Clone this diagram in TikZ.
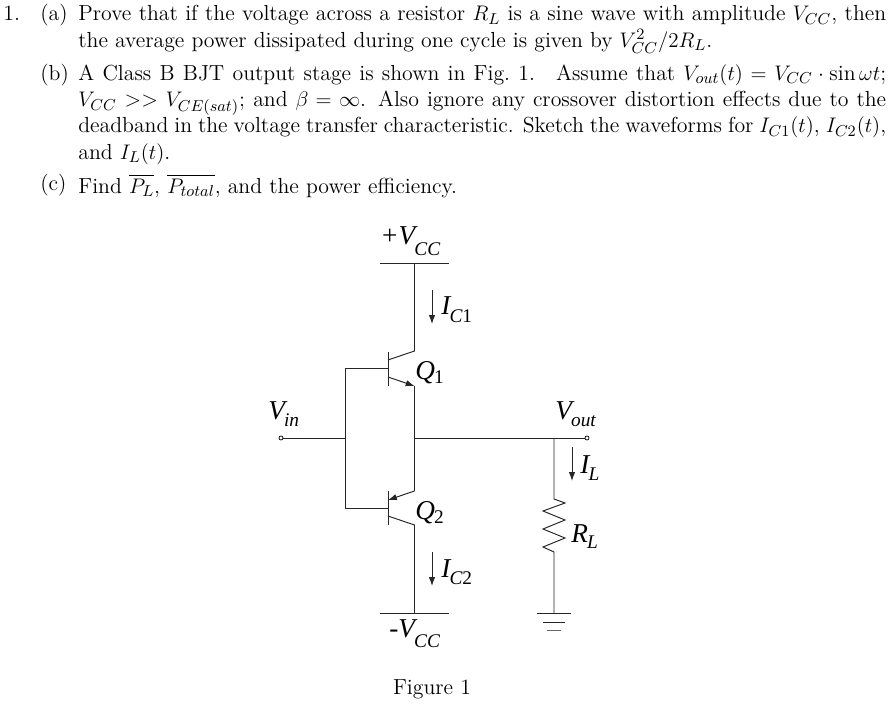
\documentclass[tikz,border=0pt]{standalone}
\usepackage{amsfonts, amssymb, amsmath}
\usepackage{fontspec}
\usepackage{tikz}
\usetikzlibrary{arrows.meta}
\newfontfamily\circfont{Liberation Serif}
\newcommand{\sublabel}[3][4pt]{{\fontsize{15.5}{16}\circfont\itshape #2\kern-0.5pt\raisebox{-#1}{\fontsize{11}{12}\selectfont #3}}}
\tikzset{
	para/.style={anchor=north west,inner sep=0pt,text width=16.16cm,align=justify,font=\fontsize{12.4}{15}\selectfont},
	item/.style={anchor=base west,inner sep=0pt,font=\fontsize{12.4}{15}\selectfont},
	wire/.style={line width=0.55pt,black!85},
	terminal/.style={draw,circle,inner sep=0pt,minimum size=0.08cm,line width=0.4pt,fill=white},
	climb/.style={inner sep=0pt,anchor=base west}
}
\begin{document}
\begin{tikzpicture}[x=0.02cm,y=-0.02cm,>={Latex[length=5pt,width=3.6pt]}]
		\useasboundingbox (0,0) rectangle (890,706);
		%
		\node[item] (num) at (3,21) {1.};
		\node[item] (itema) at (40,21) {(a)};
		\node[item] (itemb) at (40,81) {(b)};
		\node[item] (itemc) at (40,191) {(c)};
		\node[para] (para a) at (78,5) {Prove that if the voltage across a resistor $R_L$ is a sine wave with amplitude $V_{CC}$, then\linebreak the average power dissipated during one cycle is given by $V_{CC}^2/2R_L$.};
		\node[para] (para b) at (78,64) {A Class B BJT output stage is shown in Fig.~1. \ Assume that $V_{out}(t) = V_{CC} \cdot \sin\omega t$;\linebreak $V_{CC}$ >{>} $V_{CE(sat)}$; and $\beta = \infty$. Also ignore any crossover distortion effects due to the\linebreak deadband in the voltage transfer characteristic. Sketch the waveforms for $I_{C1}(t)$, $I_{C2}(t)$,\linebreak and $I_L(t)$.};
		\node[para] (para c) at (78,174) {Find $\overline{P_L}$, $\overline{P_{total}}$, and the power efficiency.};
		%
		\coordinate (vcc1) at (380,263);
		\coordinate (vcc2) at (449,263);
		\coordinate (vcc) at (414.5,263);
		\coordinate (c1) at (414.5,351);
		\coordinate (e1) at (414.5,386);
		\coordinate (bar1a) at (388,352);
		\coordinate (bar1b) at (388,386);
		\coordinate (c1in) at (388,360);
		\coordinate (e1in) at (388,377);
		\coordinate (b1) at (388,368);
		\coordinate (b1l) at (345,368);
		\coordinate (mid) at (345,438);
		\coordinate (e2) at (414.5,491);
		\coordinate (c2) at (414.5,525);
		\coordinate (bar2a) at (388,491);
		\coordinate (bar2b) at (388,525);
		\coordinate (e2in) at (388,500);
		\coordinate (c2in) at (388,516);
		\coordinate (b2) at (388,508);
		\coordinate (b2l) at (345,508);
		\coordinate (vee) at (414.5,613);
		\coordinate (vee1) at (380,613);
		\coordinate (vee2) at (449,613);
		\coordinate (out) at (414.5,438);
		\coordinate (rtop) at (554,438);
		\coordinate (r1) at (554,499);
		\coordinate (r2) at (554,552);
		\coordinate (gnd) at (554,613);
		\node[terminal] (vin) at (281,438) {};
		\node[terminal] (vout) at (587,438) {};
		%
		\draw[wire] (vcc1) -- (vcc2);
		\draw[wire] (vcc) -- (c1) -- (c1in);
		\draw[wire] (bar1a) -- (bar1b);
		\draw[wire] (b1) -- (b1l) -- (b2l) -- (b2);
		\draw[wire] (bar2a) -- (bar2b);
		\draw[wire,->] (e1in) -- (e1);
		\draw[wire] (e1) -- (e2);
		\draw[wire,->] (e2) -- (e2in);
		\draw[wire] (c2in) -- (c2) -- (vee);
		\draw[wire] (vee1) -- (vee2);
		\draw[wire] (vin) -- (mid);
		\draw[wire] (out) -- (vout);
		\draw[wire] (rtop) -- (r1) -- ++(11,4) -- ++(-22,8) -- ++(22,9) -- ++(-22,9) -- ++(22,9) -- ++(-22,9) -- (r2) -- (gnd);
		%
		\coordinate (g1a) at (537,613);
		\coordinate (g1b) at (571,613);
		\coordinate (g2a) at (543,622);
		\coordinate (g2b) at (565,622);
		\coordinate (g3a) at (547,630);
		\coordinate (g3b) at (561,630);
		\draw[wire] (g1a) -- (g1b);
		\draw[wire] (g2a) -- (g2b);
		\draw[wire,black!60] (g3a) -- (g3b);
		%
		\coordinate (ic1a) at (432,290);
		\coordinate (ic1b) at (432,324);
		\coordinate (ic2a) at (432,552);
		\coordinate (ic2b) at (432,586);
		\coordinate (ila) at (572,447);
		\coordinate (ilb) at (572,481);
		\draw[wire,->] (ic1a) -- (ic1b);
		\draw[wire,->] (ic2a) -- (ic2b);
		\draw[wire,->] (ila) -- (ilb);
		%
		\node[climb] (lvcc) at (380,245) {\sublabel[6.2pt]{+V}{CC}};
		\node[climb] (lic1) at (441,315) {\sublabel{I}{C{\upshape 1}}};
		\node[climb] (lq1) at (415,379) {\sublabel[2.5pt]{Q}{\upshape 1}};
		\node[climb] (lvin) at (268,419) {\sublabel{V}{in}};
		\node[climb] (lvout) at (555,419) {\sublabel{V}{out}};
		\node[climb] (lil) at (580,473) {\sublabel{I}{L}};
		\node[climb] (lq2) at (415,519) {\sublabel[2.5pt]{Q}{\upshape 2}};
		\node[climb] (lrl) at (571,542) {\sublabel[3.5pt]{R}{L}};
		\node[climb] (lic2) at (441,577) {\sublabel{I}{C{\upshape 2}}};
		\node[climb] (lvee) at (389,637) {\sublabel[6.2pt]{{\upshape -}V}{CC}};
		\node[inner sep=0pt,anchor=base] (fig) at (432,694) {\fontsize{12.4}{14}\selectfont Figure 1};
	\end{tikzpicture}
\end{document}
